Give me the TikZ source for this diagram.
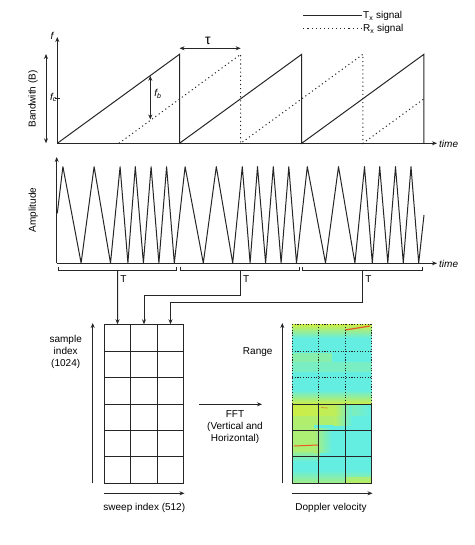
\documentclass[tikz,border=0pt]{standalone}
\usepackage{fontspec}
\setmainfont{Liberation Sans}
\usetikzlibrary{arrows.meta}
\definecolor{hmcyan}{RGB}{100,238,226}
\definecolor{hmyellow}{RGB}{205,238,70}
\definecolor{hmred}{RGB}{232,90,30}
\tikzset{
  ln/.style={line width=1pt, black!85},
  axis/.style={ln, -{Stealth[length=5pt,width=4pt]}},
  darr/.style={ln, {Stealth[length=5pt,width=4pt]}-{Stealth[length=5pt,width=4pt]}},
  rx/.style={ln, dash pattern=on 1.1pt off 3pt},
  gdot/.style={ln, dash pattern=on 1.1pt off 1.6pt},
  lbl/.style={font=\fontsize{10}{12}\selectfont, inner sep=0pt, align=center},
  itl/.style={font=\fontsize{10}{12}\selectfont\itshape, inner sep=0pt},
}
\begin{document}
\begin{tikzpicture}[x=1pt,y=-1pt]
\useasboundingbox (0,0) rectangle (474,545);
% ---------- top panel ----------
\draw[axis] (57.3,143.3) -- (57.3,37);
\draw[axis] (57.3,143.3) -- (437,143.3);
\node[itl, anchor=west] (t1) at (439,144) {time};
\node[itl] (f) at (52,36) {f};
\draw[darr] (46,54) -- (46,143.3);
\node[lbl, rotate=90] (bw) at (33,99) {Bandwith (B)};
\draw[ln] (54.5,98.3) -- (60,98.3);
\node[itl, anchor=east] (fc) at (57,97.5) {f\textsubscript{c}};
% Tx
\draw[ln] (57.3,143.3) -- (179.5,54.3) -- (179.5,143.3) -- (301.7,54.3) -- (301.7,143.3) -- (423.9,54.3) -- (423.9,143.3);
% Rx
\draw[rx] (119,143.3) -- (240.7,54.3) -- (240.7,143.3) -- (362.9,54.3) -- (362.9,143.3) -- (423.9,98.9);
% tau
\draw[darr] (179.5,48.3) -- (240.7,48.3);
\node[inner sep=0pt, font=\fontsize{14}{16}\selectfont] (tau) at (208,41) {τ};
% fb
\draw[darr] (150.3,75.8) -- (150.3,119.5);
\node[itl] (fb) at (158,94) {f\textsubscript{b}};
% legend
\draw[ln] (303.3,16) -- (361.7,16);
\node[lbl, anchor=west] (ltx) at (363,16) {T\textsubscript{x} signal};
\draw[rx] (303.3,29) -- (361.7,29);
\node[lbl, anchor=west] (lrx) at (363,29) {R\textsubscript{x} signal};
% ---------- middle panel ----------
\draw[axis] (56.7,263.3) -- (56.7,157);
\draw[axis] (56.7,263.3) -- (437,263.3);
\node[itl, anchor=west] (t2) at (439,264) {time};
\node[lbl, rotate=90] (amp) at (33.3,210) {Amplitude};
\draw[ln, line join=round]
  (57.3,213.3)
  \foreach \k in {0,1,2} {
    \foreach \o/\yy in {5.6/166.7, 23.8/263, 36.8/166.7, 53.2/263, 62.8/166.7, 70.6/263, 78/166.7, 86.1/263, 93.8/166.7, 101.6/263, 109.3/166.7, 117/263} {
      -- ({57.3+122.2*\k+\o},\yy)
    }
  } -- (424,215);
% brackets
\foreach \a/\b/\m [count=\i] in {58.3/176.7/117.7, 180.3/299/240.3, 302.7/422.3/362.7} {
  \draw[ln] (\a,266.5) -- (\a,270.7) -- (\b,270.7) -- (\b,266.5);
  \node[lbl, anchor=west] (T\i) at (\m+2.5,279) {T};
}
% ---------- left grid ----------
\coordinate (c1) at (117.5,324.3);
\coordinate (c2) at (144,324.3);
\coordinate (c3) at (170.5,324.3);
\draw[axis] (117.7,270.7) -- (c1);
\draw[axis] (240.3,270.7) -- (240.3,295.5) -- (144,295.5) -- (c2);
\draw[axis] (362.7,270.7) -- (362.7,302) -- (170.5,302) -- (c3);
\foreach \x in {104.3,130.7,157.3,183.7} \draw[ln] (\x,324.3) -- (\x,483.3);
\foreach \y in {324.3,351,377.7,404,430.7,456.7,483.3} \draw[ln] (104.3,\y) -- (183.7,\y);
\draw[axis] (92.7,483.3) -- (92.7,323);
\draw[axis] (104.3,493.3) -- (184.5,493.3);
\node[lbl] (si) at (65.7,352.3) {sample\\index\\(1024)};
\node[lbl] (sw) at (144.3,507.7) {sweep index (512)};
% FFT
\draw[axis] (199.3,404.3) -- (262,404.3);
\node[lbl] (fft) at (235,426.7) {FFT\\(Vertical and\\Horizontal)};
% ---------- heat map ----------
\begin{scope}
\clip (292,324.3) rectangle (371.7,483.3);
\fill[hmcyan] (292,324.3) rectangle (371.7,483.3);
\shade[top color=hmyellow, bottom color=hmcyan] (292,324.3) rectangle (371.7,338);
\fill[hmyellow, opacity=0.35] (292,353) rectangle (332,362);
\fill[hmyellow, opacity=0.2] (292,362) rectangle (371.7,372);
\shade[top color=hmcyan, bottom color=hmyellow] (292,390) rectangle (371.7,404);
\shade[left color=hmyellow, right color=hmcyan] (292,404) rectangle (371.7,415);
\fill[hmyellow, opacity=0.75] (292,404) rectangle (334,425);
\shade[left color=hmyellow, right color=hmcyan, opacity=0.8] (334,404) rectangle (352,425);
\fill[hmyellow, opacity=0.7] (292,425) rectangle (314,452);
\shade[left color=hmyellow, right color=hmcyan, opacity=0.7] (314,428) rectangle (332,452);
\shade[top color=hmyellow, bottom color=hmcyan, opacity=0.5] (292,452) rectangle (320,462);
\shade[top color=hmcyan, bottom color=hmyellow, opacity=0.6] (292,470) rectangle (371.7,483.3);
\fill[hmyellow, opacity=0.5] (345,477) rectangle (371.7,483.3);
\draw[hmred, line width=1.2pt] (345,330) -- (370,326);
\draw[hmred, line width=1pt] (294,446) -- (318,445);
\draw[hmred, line width=0.8pt, opacity=0.6] (321,407.5) -- (328,408);
\end{scope}
\foreach \x in {292,318.3,345,371.7} {
  \draw[gdot] (\x,324.3) -- (\x,404);
  \draw[ln] (\x,404) -- (\x,483.3);
}
\foreach \y in {324.3,351,377.7} \draw[gdot] (292,\y) -- (371.7,\y);
\foreach \y in {404,430.7,456.7,483.3} \draw[ln] (292,\y) -- (371.7,\y);
\draw[axis] (282.3,483.3) -- (282.3,323);
\draw[axis] (292,493.3) -- (372.5,493.3);
\node[lbl] (rg) at (257.7,352.3) {Range};
\node[lbl] (dv) at (331,507.7) {Doppler velocity};
\end{tikzpicture}
\end{document}
